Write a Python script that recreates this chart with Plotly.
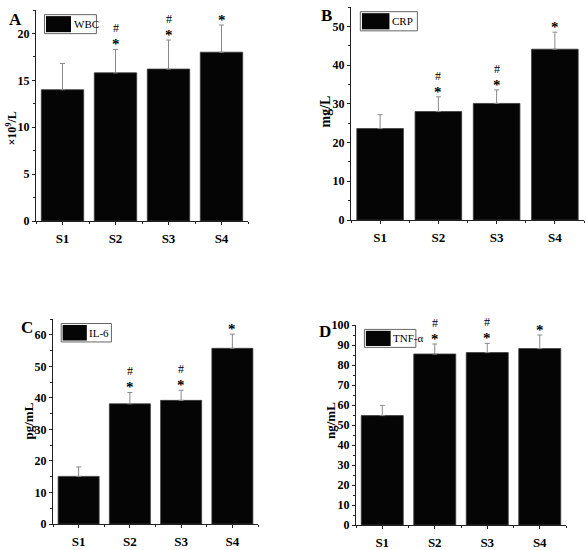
import plotly.graph_objects as go

categories = ["S1", "S2", "S3", "S4"]

wbc_mean = [14.0, 15.8, 16.2, 18.0]
wbc_err = [2.8, 2.5, 3.1, 2.9]
crp_mean = [23.6, 28.0, 30.1, 44.1]
crp_err = [3.6, 3.8, 3.5, 4.4]
il6_mean = [15.1, 38.1, 39.2, 55.7]
il6_err = [3.0, 3.6, 3.2, 4.5]
tnf_mean = [54.7, 85.5, 86.2, 88.2]
tnf_err = [5.1, 5.0, 4.6, 6.8]

# significance marks per group
star_marks = [False, True, True, True]
hash_marks = [False, True, True, False]

W, H = 586, 550


def xdom(a, b):
    return [a / W, b / W]


def ydom(top, bottom):
    return [1 - bottom / H, 1 - top / H]


panels = [
    dict(name="WBC", mean=wbc_mean, err=wbc_err, label="A",
         ytitle="×10<sup>9</sup>/L", yrange=[0, 22.5], dtick=5,
         xdom=xdom(36, 248), ydom=ydom(10, 221), lx=-12, ly=2,
         tx=-25, ty=-13, ts=12),
    dict(name="CRP", mean=crp_mean, err=crp_err, label="B",
         ytitle="mg/L", yrange=[0, 55], dtick=10,
         xdom=xdom(351, 584), ydom=ydom(7, 220), lx=-17, ly=3,
         tx=-26, ty=2, ts=14),
    dict(name="IL-6", mean=il6_mean, err=il6_err, label="C",
         ytitle="pg/mL", yrange=[0, 65], dtick=10,
         xdom=xdom(53, 258), ydom=ydom(319, 524), lx=-18, ly=3,
         tx=-25, ty=0, ts=13),
    dict(name="TNF-α", mean=tnf_mean, err=tnf_err, label="D",
         ytitle="ng/mL", yrange=[0, 100], dtick=10,
         xdom=xdom(356, 566), ydom=ydom(325, 525), lx=-23, ly=5,
         tx=-26, ty=4, ts=13),
]

FONT = "Liberation Serif"
xs = list(range(1, len(categories) + 1))

fig = go.Figure()
annotations = []
shapes = []

for i, p in enumerate(panels):
    n = "" if i == 0 else str(i + 1)
    xa, ya = "x" + n, "y" + n
    xd = xa + " domain"
    yd = ya + " domain"
    fig.add_trace(go.Bar(
        x=xs, y=p["mean"], width=0.8, xaxis=xa, yaxis=ya,
        marker=dict(color="#050505", line=dict(color="#3a3a3a", width=0.8)),
        error_y=dict(type="data", symmetric=False, array=p["err"],
                     arrayminus=[0] * len(xs), color="#8a8a8a",
                     thickness=1, width=2.5),
        showlegend=False, name=p["name"],
    ))
    common_axis = dict(showline=True, linecolor="#222222", linewidth=1,
                       ticks="outside", ticklen=3, tickcolor="#222222",
                       showgrid=False, zeroline=False, automargin=False)
    fig.layout["xaxis" + n] = dict(
        domain=p["xdom"], anchor=ya, range=[0.5, 4.5],
        tickmode="array", tickvals=xs, ticktext=categories,
        ticklabelstandoff=2,
        tickfont=dict(family=FONT, size=13, color="black", weight="bold"),
        minor=dict(tickmode="linear", tick0=0.5, dtick=1, ticks="outside",
                   ticklen=2, tickcolor="#222222"),
        **common_axis)
    fig.layout["yaxis" + n] = dict(
        domain=p["ydom"], anchor=xa, range=p["yrange"], dtick=p["dtick"],
        tickfont=dict(family=FONT, size=12, color="black", weight="bold"),
        minor=dict(dtick=p["dtick"] / 2, ticks="outside", ticklen=2,
                   tickcolor="#222222"),
        **common_axis)

    # y-axis title
    annotations.append(dict(x=0, y=0.5, xref=xd, yref=yd, text="<b>%s</b>" % p["ytitle"],
                            textangle=-90, showarrow=False, xanchor="center",
                            yanchor="middle", xshift=p["tx"], yshift=p["ty"],
                            font=dict(family=FONT, size=p["ts"], color="black")))

    for j, x in enumerate(xs):
        top = p["mean"][j] + p["err"][j]
        if star_marks[j]:
            annotations.append(dict(x=x, y=top, xref=xa, yref=ya, text="<b>*</b>",
                                    showarrow=False, yanchor="middle", yshift=5,
                                    font=dict(family=FONT, size=15, color="black")))
        if hash_marks[j]:
            annotations.append(dict(x=x, y=top, xref=xa, yref=ya, text="#",
                                    showarrow=False, yanchor="middle", yshift=21,
                                    font=dict(family=FONT, size=12, color="black")))

    # panel letter
    annotations.append(dict(x=p["xdom"][0], y=p["ydom"][1], xref="paper", yref="paper",
                            text="<b>%s</b>" % p["label"], showarrow=False,
                            xanchor="right", yanchor="top", xshift=p["lx"], yshift=p["ly"],
                            font=dict(family=FONT, size=17, color="black")))
    # legend box
    shapes.append(dict(type="rect", xref=xd, yref=yd, x0=0.04, x1=0.285,
                       y0=0.888, y1=0.978, line=dict(color="#666666", width=1),
                       fillcolor="white"))
    shapes.append(dict(type="rect", xref=xd, yref=yd, x0=0.047, x1=0.165,
                       y0=0.895, y1=0.971, line=dict(width=0), fillcolor="#050505"))
    annotations.append(dict(x=0.168, y=0.933, xref=xd, yref=yd, text=p["name"],
                            showarrow=False, xanchor="left", yanchor="middle",
                            font=dict(family=FONT, size=11, color="black")))

fig.update_layout(
    width=W, height=H, margin=dict(l=0, r=0, t=0, b=0),
    paper_bgcolor="white", plot_bgcolor="white",
    annotations=annotations, shapes=shapes,
)

# let the figure fill the window exactly (no default page margin)
fig.write_html("out.html", config={"displayModeBar": False},
               post_script="document.body.style.margin='0';document.body.style.overflow='hidden';")
